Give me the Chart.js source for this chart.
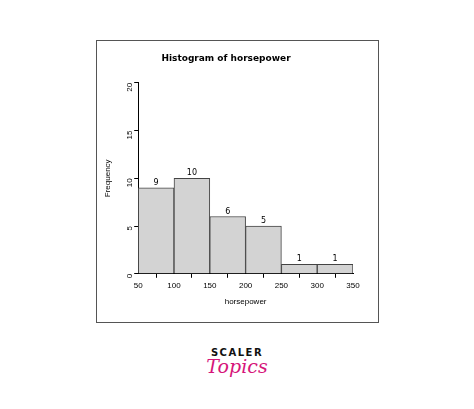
<!DOCTYPE html>
<html>
<head>
<script src="https://cdn.jsdelivr.net/npm/chart.js@4"></script>
<style>
body { margin: 0; background: #fff; font-family: "DejaVu Sans", sans-serif; }
#box { position: absolute; left: 96px; top: 40px; width: 281px; height: 281px; border: 1px solid #555; }
#logo { position: absolute; left: 0; width: 474px; top: 347px; text-align: center; }
#logo .s { font: bold 10px "DejaVu Sans"; letter-spacing: 1.5px; color: #111; }
#logo .t { font: italic 19px "DejaVu Serif"; color: #d6157a; margin-top: -3px; }
</style>
</head>
<body>
<div id="box"><canvas id="hist" width="281" height="281"></canvas></div>
<div id="logo"><div class="s">SCALER</div><div class="t">Topics</div></div>
<script>
const binMids = [75, 125, 175, 225, 275, 325];
const counts = [9, 10, 6, 5, 1, 1];
const xTicks = [50, 100, 150, 200, 250, 300, 350];
const yTicks = [0, 5, 10, 15, 20];

const countLabels = {
  id: 'countLabels',
  afterDatasetsDraw(chart) {
    const ctx = chart.ctx;
    ctx.save();
    ctx.font = '8px "DejaVu Sans"';
    ctx.fillStyle = '#000';
    ctx.textAlign = 'center';
    chart.getDatasetMeta(0).data.forEach((bar, i) => {
      ctx.fillText(counts[i], bar.x, bar.y - 3);
    });
    ctx.restore();
  }
};

new Chart(document.getElementById('hist'), {
  type: 'bar',
  data: {
    datasets: [{
      data: binMids.map((x, i) => ({ x: x, y: counts[i] })),
      backgroundColor: '#d3d3d3',
      borderColor: '#444',
      borderWidth: 1,
      barPercentage: 1,
      categoryPercentage: 1
    }]
  },
  options: {
    responsive: false,
    animation: false,
    layout: { padding: { left: 2, right: 25, top: 8, bottom: 11 } },
    plugins: {
      legend: { display: false },
      tooltip: { enabled: false },
      title: { display: true, text: 'Histogram of horsepower', color: '#000',
        font: { family: 'DejaVu Sans', size: 9, weight: 'bold' }, padding: { top: 4, bottom: 19 } }
    },
    scales: {
      x: {
        type: 'linear', min: 50, max: 350, offset: false,
        afterBuildTicks: s => { s.ticks = xTicks.map(v => ({ value: v })); },
        grid: { display: true, drawOnChartArea: false, tickLength: 4, color: '#000' },
        border: { color: '#000' },
        ticks: { color: '#000', font: { size: 8 }, maxRotation: 0, padding: 3 },
        title: { display: true, text: 'horsepower', color: '#000', font: { size: 8 } }
      },
      y: {
        min: 0, max: 20,
        afterBuildTicks: s => { s.ticks = yTicks.map(v => ({ value: v })); },
        grid: { display: true, drawOnChartArea: false, tickLength: 4, color: '#000' },
        border: { color: '#000' },
        ticks: { color: '#000', font: { size: 8 }, minRotation: 90, maxRotation: 90, padding: 4 },
        title: { display: true, text: 'Frequency', color: '#000', font: { size: 8 } }
      }
    }
  },
  plugins: [countLabels]
});
</script>
</body>
</html>
